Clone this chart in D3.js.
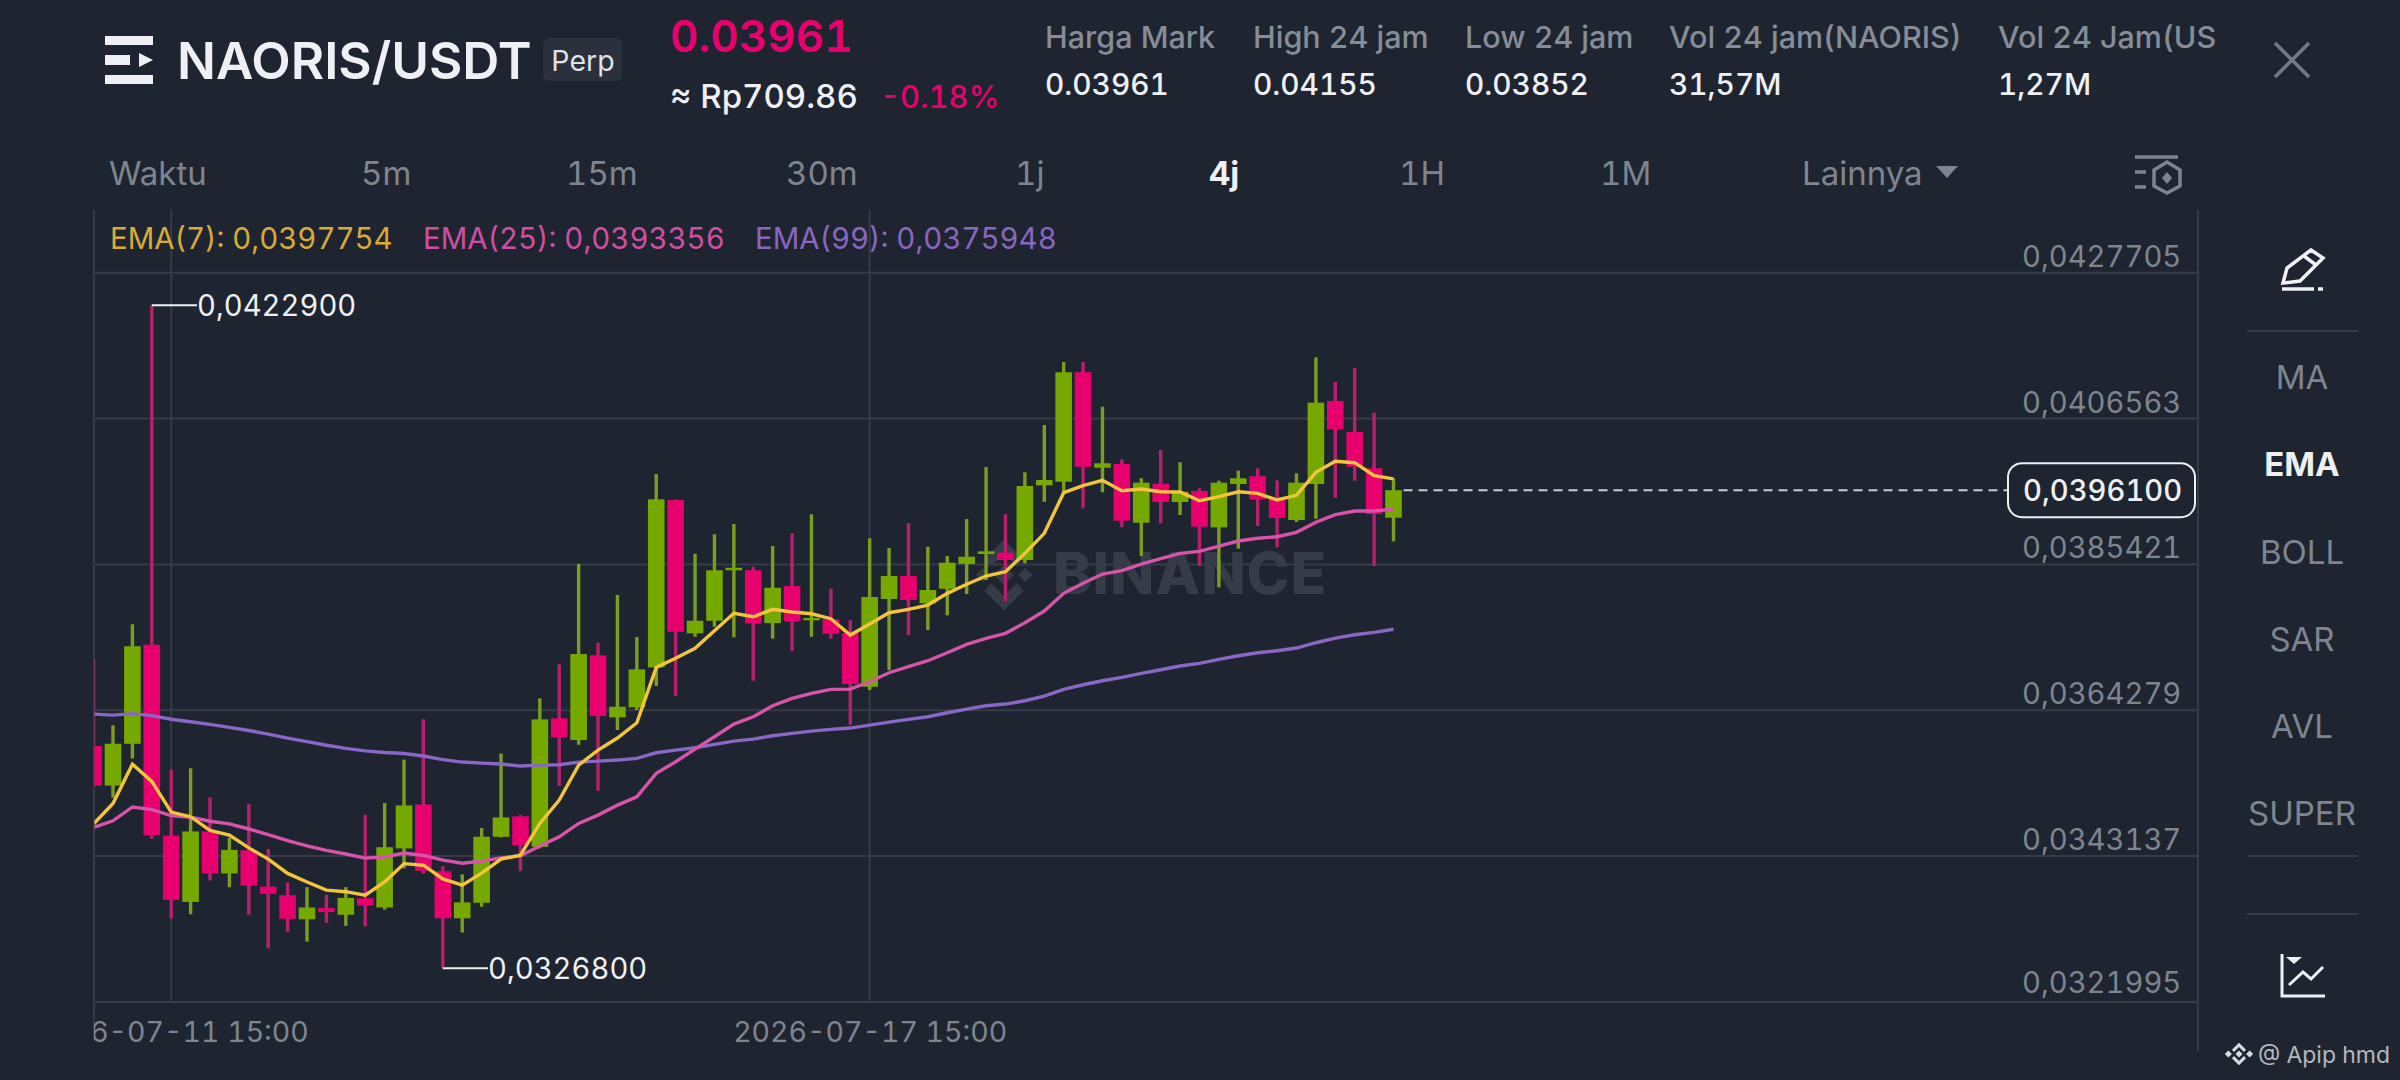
<!DOCTYPE html>
<html>
<head>
<meta charset="utf-8">
<title>NAORIS/USDT</title>
<script src="https://cdn.jsdelivr.net/npm/d3@7"></script>
<style>
  html, body { margin: 0; padding: 0; background: #1e2530; overflow: hidden; }
  svg { display: block; font-family: Inter, "Noto Sans", sans-serif; font-variant-numeric: tabular-nums; }
</style>
</head>
<body>
<svg id="chart" width="2400" height="1080"></svg>
<script>
// candles, 4h each, oldest first
var opens = [0.035901,0.035328,0.035934,0.037370,0.034603,0.033642,0.034663,0.034055,0.034389,0.033864,0.033738,0.033390,0.033552,0.033456,0.033693,0.033561,0.034418,0.035054,0.034086,0.033404,0.033629,0.034586,0.034882,0.034441,0.036303,0.035988,0.037216,0.036317,0.036462,0.037042,0.039468,0.037535,0.037718,0.038449,0.038449,0.037684,0.038221,0.037724,0.037738,0.037535,0.036761,0.038033,0.038366,0.037970,0.038182,0.038540,0.038685,0.038704,0.038598,0.039681,0.039733,0.041320,0.039936,0.039990,0.039139,0.039704,0.039439,0.039599,0.039072,0.039700,0.039812,0.039507,0.039178,0.039700,0.040904,0.040454,0.039928,0.039211];
var highs = [0.037162,0.036201,0.037666,0.042290,0.035557,0.035579,0.035157,0.034573,0.035061,0.034410,0.033923,0.033856,0.033745,0.033856,0.034906,0.035076,0.035705,0.036290,0.034160,0.034041,0.034712,0.035792,0.034900,0.036593,0.037086,0.038540,0.037399,0.038091,0.037481,0.039845,0.039475,0.038689,0.038971,0.039120,0.038501,0.038801,0.038985,0.039261,0.038182,0.037728,0.038913,0.038772,0.039130,0.038791,0.038656,0.039192,0.039946,0.039261,0.039870,0.040556,0.041469,0.041469,0.040821,0.040058,0.039783,0.040193,0.040015,0.039638,0.039748,0.039893,0.039928,0.039754,0.039855,0.041537,0.041179,0.041382,0.040734,0.039783];
var lows = [0.035321,0.035150,0.035720,0.034558,0.033404,0.033464,0.033952,0.033856,0.033456,0.032968,0.033205,0.033065,0.033337,0.033294,0.033287,0.033530,0.034129,0.034055,0.032680,0.033198,0.033571,0.034577,0.034088,0.034418,0.035321,0.035920,0.035253,0.036133,0.036423,0.036771,0.036626,0.037486,0.037631,0.037477,0.036848,0.037457,0.037278,0.037486,0.037457,0.036210,0.036713,0.037003,0.037510,0.037583,0.037796,0.038105,0.038308,0.038004,0.038550,0.039443,0.039565,0.039348,0.039580,0.039072,0.038656,0.039130,0.039251,0.038511,0.038202,0.038762,0.039091,0.038782,0.039149,0.039197,0.039501,0.039748,0.038511,0.038869];
var closes = [0.035328,0.035934,0.037348,0.034611,0.033671,0.034663,0.034055,0.034396,0.033878,0.033759,0.033397,0.033561,0.033494,0.033700,0.033590,0.034434,0.035040,0.034093,0.033404,0.033635,0.034586,0.034867,0.034461,0.036288,0.036027,0.037235,0.036336,0.036471,0.037013,0.039478,0.037558,0.037718,0.038449,0.038486,0.037680,0.038196,0.037713,0.037757,0.037529,0.036800,0.038062,0.038366,0.038018,0.038163,0.038559,0.038646,0.038724,0.038598,0.039671,0.039758,0.041320,0.039951,0.040000,0.039168,0.039719,0.039439,0.039588,0.039081,0.039719,0.039783,0.039478,0.039207,0.039719,0.040879,0.040493,0.039951,0.039265,0.039610];

var ema7 = [0.034773,0.035069,0.035639,0.035388,0.034944,0.034877,0.034677,0.034610,0.034425,0.034262,0.034055,0.033930,0.033812,0.033790,0.033738,0.033930,0.034196,0.034174,0.033974,0.033885,0.034059,0.034262,0.034320,0.034780,0.035118,0.035625,0.035843,0.036017,0.036239,0.037042,0.037173,0.037318,0.037573,0.037825,0.037776,0.037883,0.037844,0.037819,0.037747,0.037510,0.037670,0.037834,0.037883,0.037945,0.038115,0.038246,0.038366,0.038428,0.038695,0.038985,0.039574,0.039675,0.039754,0.039603,0.039628,0.039588,0.039584,0.039458,0.039516,0.039588,0.039565,0.039468,0.039536,0.039870,0.040029,0.040009,0.039820,0.039775];
var ema25 = [0.034722,0.034818,0.035018,0.034980,0.034892,0.034870,0.034811,0.034773,0.034699,0.034618,0.034529,0.034455,0.034389,0.034336,0.034277,0.034293,0.034351,0.034315,0.034248,0.034203,0.034233,0.034281,0.034310,0.034451,0.034586,0.034780,0.034900,0.035045,0.035166,0.035505,0.035673,0.035857,0.036036,0.036220,0.036326,0.036485,0.036593,0.036665,0.036723,0.036727,0.036833,0.036964,0.037051,0.037138,0.037254,0.037376,0.037463,0.037535,0.037689,0.037858,0.038115,0.038260,0.038395,0.038443,0.038540,0.038617,0.038695,0.038724,0.038801,0.038874,0.038913,0.038936,0.039000,0.039145,0.039255,0.039309,0.039309,0.039336];
var ema99 = [0.036364,0.036349,0.036371,0.036342,0.036290,0.036253,0.036216,0.036172,0.036127,0.036075,0.036016,0.035965,0.035913,0.035868,0.035831,0.035808,0.035794,0.035757,0.035705,0.035669,0.035654,0.035640,0.035611,0.035625,0.035630,0.035669,0.035683,0.035698,0.035723,0.035804,0.035843,0.035876,0.035926,0.035973,0.036002,0.036050,0.036085,0.036118,0.036143,0.036162,0.036205,0.036249,0.036288,0.036326,0.036384,0.036437,0.036485,0.036510,0.036558,0.036626,0.036723,0.036790,0.036848,0.036897,0.036955,0.037007,0.037061,0.037100,0.037158,0.037210,0.037254,0.037283,0.037322,0.037399,0.037467,0.037515,0.037550,0.037595];

var priceTicks = [0.0427705,0.0406563,0.0385421,0.0364279,0.0343137,0.0321995];
var timeTickIndex = [4,40];
var timeTickLabels = ["2026-07-11 15:00","2026-07-17 15:00"];
var lastPrice = 0.03961;
var legendValues = ["0,0397754","0,0393356","0,0375948"];

var statHeads = ["Harga Mark","High 24 jam","Low 24 jam","Vol 24 jam(NAORIS)","Vol 24 Jam(US"];
var statValues = ["0.03961","0.04155","0.03852","31,57M","1,27M"];
var statX = [1045,1253,1465,1669,1998];
var tabs = ["Waktu","5m","15m","30m","1j","4j","1H","1M","Lainnya"];
var tabX = [109,361,566,786,1015,1209,1399,1600,1802];
var sideNames = ["MA","EMA","BOLL","SAR","AVL","SUPER"];
var sideY = [389,476,564,651,738,825];

var BG = "#1e2530", GRID = "#353c47", MUTED = "#7f858f", WHITE = "#eef0f3";
var UP = "#76a900", DOWN = "#e8006f", UPWICK = "#7b9e22", DOWNWICK = "#b81f6e";

var svg = d3.select("#chart");
svg.append("rect").attr("width", 2400).attr("height", 1080).attr("fill", BG);

function label(x, y, str, size, color, weight, anchor) {
  return svg.append("text").attr("x", x).attr("y", y).text(str)
    .attr("font-size", size).attr("fill", color)
    .attr("font-weight", weight || 400).attr("text-anchor", anchor || "start");
}

// plot area
var left = 94, right = 2198, top0 = 210;
var x = d3.scaleLinear().domain([0, 67]).range([93.6, 1393.5]);
var y = d3.scaleLinear().domain([0.0321995, 0.0427705]).range([1001.4, 272.2]);
var comma = function(v) { return d3.format(".7f")(v).replace(".", ","); };

svg.append("clipPath").attr("id", "plot").append("rect")
  .attr("x", left + 0.5).attr("y", top0).attr("width", right - left).attr("height", 860);

// frame + vertical grid
[[left, 1040], [right, 1051]].forEach(function(d) {
  svg.append("line").attr("x1", d[0]).attr("x2", d[0]).attr("y1", top0).attr("y2", d[1])
    .attr("stroke", GRID).attr("stroke-width", 2);
});

var xAxis = svg.append("g").attr("transform", "translate(0,1001)")
  .call(d3.axisBottom(x).tickValues(timeTickIndex)
    .tickFormat(function(d, i) { return timeTickLabels[i]; }).tickSize(0));
xAxis.select(".domain").remove();
xAxis.selectAll("text").attr("font-size", 28.5).attr("font-family", "Inter").attr("fill", MUTED)
  .attr("y", 41).attr("dy", 0);
xAxis.attr("clip-path", "url(#xclip)");
svg.append("clipPath").attr("id", "xclip").append("rect")
  .attr("x", left).attr("y", -20).attr("width", right - left).attr("height", 120);

svg.selectAll(".vgrid").data(timeTickIndex).enter().append("line").attr("class", "vgrid")
  .attr("x1", function(d) { return x(d); }).attr("x2", function(d) { return x(d); })
  .attr("y1", top0).attr("y2", 1001).attr("stroke", GRID).attr("stroke-width", 2);

// price axis, drawn leftwards so the ticks are the grid
var yAxis = svg.append("g").attr("transform", "translate(" + right + ",0)")
  .call(d3.axisLeft(y).tickValues(priceTicks).tickFormat(comma).tickSize(right - left));
yAxis.select(".domain").remove();
yAxis.selectAll("line").attr("stroke", GRID).attr("stroke-width", 2);
yAxis.selectAll("text").attr("font-size", 29.2).attr("font-family", "Inter").attr("fill", MUTED)
  .attr("text-anchor", "start").attr("x", -176).attr("dy", 0)
  .attr("y", function(d, i) { return i === 5 ? -9 : -6; });

// watermark
var wm = svg.append("g").attr("fill", "#353c48");
wm.append("text").attr("x", 1053).attr("y", 594).text("BINANCE")
  .attr("font-size", 58).attr("font-weight", 800).attr("letter-spacing", 1);
wm.append("path").attr("transform", "translate(1004,575) rotate(45)")
  .attr("d", "M-7,-7H7V7H-7Z M-25,-25H3V-15H-15V3H-25Z M-3,25V15H15V-3H25V25Z M10,-20H20V-10H10Z M-20,10H-10V20H-20Z");

// candles
var candles = d3.range(opens.length).map(function(i) {
  return { i: i, o: opens[i], h: highs[i], l: lows[i], c: closes[i], up: closes[i] >= opens[i] };
});
var bars = svg.append("g").attr("clip-path", "url(#plot)")
  .selectAll("g").data(candles).enter().append("g");
bars.append("line")
  .attr("x1", function(d) { return x(d.i); }).attr("x2", function(d) { return x(d.i); })
  .attr("y1", function(d) { return y(d.h); }).attr("y2", function(d) { return y(d.l); })
  .attr("stroke-width", 3.4)
  .attr("stroke", function(d) { return d.up ? UPWICK : DOWNWICK; });
bars.append("rect")
  .attr("x", function(d) { return x(d.i) - 8.3; }).attr("width", 16.6)
  .attr("y", function(d) { return y(Math.max(d.o, d.c)); })
  .attr("height", function(d) { return Math.abs(y(d.o) - y(d.c)); })
  .attr("fill", function(d) { return d.up ? UP : DOWN; });

// EMA lines
var lineGen = d3.line().x(function(d, i) { return x(i); }).y(function(d) { return y(d); });
[[ema99, "#8a66c6"], [ema25, "#d654aa"], [ema7, "#f2c53c"]].forEach(function(s) {
  svg.append("path").attr("d", lineGen(s[0])).attr("fill", "none")
    .attr("stroke", s[1]).attr("stroke-width", 3.4).attr("clip-path", "url(#plot)");
});

// legend
label(110, 249, "EMA(7): " + legendValues[0], 29.4, "#d8ab38");
label(423, 249, "EMA(25): " + legendValues[1], 29.4, "#cf50a2");
label(755, 249, "EMA(99): " + legendValues[2], 29.4, "#8a66c0");

// high / low callouts
[[3, highs[3], 197], [18, lows[18], 488]].forEach(function(d) {
  svg.append("line").attr("x1", x(d[0])).attr("x2", d[2]).attr("y1", y(d[1])).attr("y2", y(d[1]))
    .attr("stroke", WHITE).attr("stroke-width", 2);
  label(d[2], y(d[1]) + 11, comma(d[1]), 29.2, WHITE);
});

// last price
svg.append("line").attr("x1", x(67) + 10).attr("x2", 2008)
  .attr("y1", y(lastPrice)).attr("y2", y(lastPrice))
  .attr("stroke", "#c9cdd3").attr("stroke-width", 2).attr("stroke-dasharray", "9 6");
svg.append("rect").attr("x", 2008).attr("y", y(lastPrice) - 27).attr("width", 187).attr("height", 54)
  .attr("rx", 14).attr("fill", BG).attr("stroke", WHITE).attr("stroke-width", 2);
label(2023, y(lastPrice) + 11, comma(lastPrice), 29.2, WHITE, 500);

// header
var menu = svg.append("g").attr("fill", WHITE);
menu.append("rect").attr("x", 105).attr("y", 36).attr("width", 48).attr("height", 9);
menu.append("rect").attr("x", 105).attr("y", 55).attr("width", 25).attr("height", 10);
menu.append("path").attr("d", "M139,53L153,60L139,67Z");
menu.append("rect").attr("x", 105).attr("y", 75).attr("width", 48).attr("height", 9);

label(177, 79, "NAORIS/USDT", 51.3, WHITE, 600);
svg.append("rect").attr("x", 543).attr("y", 38).attr("width", 79).attr("height", 43).attr("rx", 6).attr("fill", "#2a313d");
label(583, 71, "Perp", 28.5, "#dfe2e6", 400, "middle");
label(670, 52, "0.03961", 44, DOWN, 600);
label(670, 108, "≈ Rp709.86", 33, WHITE, 500);
label(880, 108, "-0.18%", 31, DOWN, 500);

statHeads.forEach(function(s, i) {
  label(statX[i], 48, s, 30.5, "#868d97", 500);
  label(statX[i], 95, statValues[i], 29.8, WHITE, 500);
});
svg.append("path").attr("d", "M2275,43L2309,77M2309,43L2275,77")
  .attr("stroke", "#747b86").attr("stroke-width", 3.5).attr("fill", "none");

// interval tabs
tabs.forEach(function(s, i) {
  var on = s === "4j";
  label(tabX[i], 185, s, 33, on ? WHITE : MUTED, on ? 700 : 400);
});
svg.append("path").attr("d", "M1936,166H1958L1947,178Z").attr("fill", MUTED);
var cfg = svg.append("g").attr("stroke", MUTED).attr("stroke-width", 3.5).attr("fill", "none");
cfg.append("path").attr("d", "M2135,157H2178M2135,172H2146M2135,187H2146");
cfg.append("path").attr("d", "M2167,162L2180,170V186L2167,193L2154,186V170Z");
cfg.append("path").attr("d", "M2167,172L2172,178L2167,184L2162,178Z").attr("fill", MUTED).attr("stroke", "none");

// side panel
[331, 856, 914].forEach(function(d) {
  svg.append("line").attr("x1", 2247).attr("x2", 2358).attr("y1", d).attr("y2", d)
    .attr("stroke", GRID).attr("stroke-width", 2);
});
sideNames.forEach(function(s, i) {
  var on = s === "EMA";
  label(2302, sideY[i], s, 33, on ? WHITE : MUTED, on ? 700 : 400, "middle");
});
var pen = svg.append("g").attr("fill", "none").attr("stroke", WHITE).attr("stroke-width", 3.5);
pen.append("path").attr("d", "M2311,250L2323,258L2300,281L2283,283L2287,268Z");
pen.append("path").attr("d", "M2304,256L2316,265");
pen.append("path").attr("d", "M2282,289H2314M2318,289H2323");
var trend = svg.append("g").attr("fill", "none").attr("stroke", WHITE).attr("stroke-width", 3);
trend.append("path").attr("d", "M2282,954V996H2325");
trend.append("path").attr("d", "M2289,985L2303,972L2311,979L2323,967");
svg.append("path").attr("d", "M2286,957H2302L2294,964Z").attr("fill", WHITE);

// footer
var mark = svg.append("g").attr("transform", "translate(2239,1054) rotate(45)").attr("fill", "#d8dbe0");
mark.append("path").attr("d", "M-2.5,-2.5H2.5V2.5H-2.5Z M-8,-8H2V-5H-5V2H-8Z M-2,8V5H5V-2H8V8Z M5,-10H10V-5H5Z M-10,5H-5V10H-10Z");
label(2258, 1063, "@ Apip hmd", 23, "#b4b8be");
</script>
</body>
</html>
